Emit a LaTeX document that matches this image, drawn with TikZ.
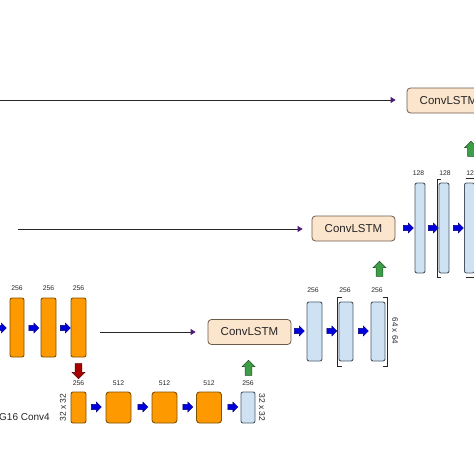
\documentclass[tikz,border=0pt]{standalone}
\usepackage{fontspec}
\setmainfont{Liberation Sans}
\usetikzlibrary{shapes.arrows,arrows.meta}
\definecolor{orfill}{HTML}{FF9900}
\definecolor{ordraw}{HTML}{7F5200}
\definecolor{lbfill}{HTML}{CFE2F3}
\definecolor{lbdraw}{HTML}{4A5866}
\definecolor{lsfill}{HTML}{FCE5CD}
\definecolor{lsdraw}{HTML}{6B5B4B}
\definecolor{bafill}{HTML}{0000DD}
\definecolor{badraw}{HTML}{00007A}
\definecolor{gafill}{HTML}{3E9E47}
\definecolor{gadraw}{HTML}{1E4F22}
\definecolor{rafill}{HTML}{A80000}
\definecolor{radraw}{HTML}{500000}
\definecolor{purp}{HTML}{4B1A7A}
\definecolor{txt}{HTML}{262626}
\begin{document}
\begin{tikzpicture}[x=1pt,y=-1pt,
  orbar/.style={draw=ordraw,fill=orfill,line width=0.9pt,rounded corners=2pt,inner sep=0pt},
  lbbar/.style={draw=lbdraw,fill=lbfill,line width=0.9pt,rounded corners=2pt,inner sep=0pt},
  lstm/.style={draw=lsdraw,fill=lsfill,line width=0.8pt,rounded corners=3.5pt,minimum width=83pt,minimum height=25pt,inner sep=0pt,font=\fontsize{11.5}{12}\selectfont,text=txt},
  barrow/.style={single arrow,draw=badraw,fill=bafill,line width=0.4pt,minimum height=10pt,inner sep=2.4pt,single arrow head extend=2.4pt,single arrow head indent=0pt},
  uparrow/.style={single arrow,draw=gadraw,fill=gafill,line width=0.5pt,minimum height=15pt,inner sep=3.2pt,single arrow head extend=3pt,single arrow head indent=0pt,shape border rotate=90},
  dnarrow/.style={single arrow,draw=radraw,fill=rafill,line width=0.5pt,minimum height=15pt,inner sep=3.2pt,single arrow head extend=3pt,single arrow head indent=0pt,shape border rotate=270},
  lbl/.style={font=\fontsize{6.8}{7}\selectfont,text=txt,inner sep=0pt},
  dim/.style={font=\fontsize{8.5}{9}\selectfont,text=txt,inner sep=0pt},
  skip/.style={draw=txt,line width=0.8pt,-{Triangle[length=5pt,width=6pt,fill=purp,color=purp]}},
  brk/.style={draw=txt,line width=0.7pt}
]
\useasboundingbox (0,0) rectangle (474,474);
\clip (0,0) rectangle (474,474);

% ---------- bottom row 1 (orange) ----------
\node[orbar,minimum width=14pt,minimum height=59pt] (o1) at (17,327.5) {};
\node[orbar,minimum width=15pt,minimum height=59pt] (o2) at (48.5,327.5) {};
\node[orbar,minimum width=15pt,minimum height=59pt] (o3) at (78.5,327.5) {};
\node[lbl] at (17,288) {256};
\node[lbl] at (48.5,288) {256};
\node[lbl] at (78.5,288) {256};
\node[barrow] (ba0) at (0,328) {};
\node[barrow] (ba1) at (32.5,328) {};
\node[barrow] (ba2) at (64,328) {};

% ConvLSTM 1
\node[lstm] (l1) at (249.5,332) {ConvLSTM};
\coordinate (s1start) at (100,332);
\draw[skip,shorten >=12pt] (s1start) -- (l1.west);

% light blue bars 64x64
\node[barrow] (ba3) at (298,331) {};
\node[lbbar,minimum width=15pt,minimum height=59pt] (b1) at (314.5,331.5) {};
\node[lbbar,minimum width=14pt,minimum height=59pt] (b2) at (346,331.5) {};
\node[lbbar,minimum width=14pt,minimum height=59pt] (b3) at (378,331.5) {};
\node[lbl] at (313,290) {256};
\node[lbl] at (345,290) {256};
\node[lbl] at (377,290) {256};
\node[barrow] (ba4) at (330.5,331) {};
\node[barrow] (ba5) at (362,331) {};
\draw[brk] (341.5,297) -- (337,297) -- (337,366) -- (341.5,366);
\draw[brk] (382.5,297) -- (387,297) -- (387,366) -- (382.5,366);
\node[dim,rotate=-90,font=\fontsize{8}{9}\selectfont] at (395,331) {64 x 64};

% ---------- bottom row 2 (VGG16 Conv4) ----------
\node[orbar,minimum width=15pt,minimum height=31pt] (c1) at (78.5,407.5) {};
\node[orbar,minimum width=25pt,minimum height=31pt,rounded corners=3pt] (c2) at (118.5,407.5) {};
\node[orbar,minimum width=25pt,minimum height=31pt,rounded corners=3pt] (c3) at (164.5,407.5) {};
\node[orbar,minimum width=25pt,minimum height=31pt,rounded corners=3pt] (c4) at (209,407.5) {};
\node[lbbar,minimum width=14pt,minimum height=31pt] (c5) at (248,407.5) {};
\node[lbl] at (78.5,383) {256};
\node[lbl] at (118.5,383) {512};
\node[lbl] at (164.5,383) {512};
\node[lbl] at (209,383) {512};
\node[lbl] at (248,383) {256};
\node[barrow] (ba6) at (95,407) {};
\node[barrow] (ba7) at (141.5,407) {};
\node[barrow] (ba8) at (186.5,407) {};
\node[barrow] (ba9) at (231.5,407) {};
\node[dim,rotate=90] at (63,407.5) {32 x 32};
\node[dim,rotate=-90] at (262,407.5) {32 x 32};
\node[font=\fontsize{10}{11}\selectfont,text=txt,anchor=east,inner sep=0pt] (vgg) at (50,417) {VGG16 Conv4};
\node[dnarrow] (ra1) at (78.5,369.5) {};
\node[uparrow] (ga1) at (248.5,369.5) {};

% ---------- middle row ----------
\node[lstm] (l2) at (353.5,228.5) {ConvLSTM};
\coordinate (s2start) at (18,229);
\draw[skip,shorten >=9pt] (s2start) -- (s2start -| l2.west);
\node[uparrow] (ga2) at (379.5,270.5) {};
\node[barrow] (ba10) at (407,228) {};
\node[lbbar,minimum width=10pt,minimum height=90pt] (m1) at (420,228) {};
\node[lbbar,minimum width=10pt,minimum height=90pt] (m2) at (444,228) {};
\node[lbbar,minimum width=10pt,minimum height=90pt] (m3) at (469.5,228) {};
\node[lbl] at (418.5,173) {128};
\node[lbl] at (445,173) {128};
\node[lbl] at (472,173) {128};
\node[barrow] (ba11) at (432,228) {};
\node[barrow] (ba12) at (457,228) {};
\draw[brk] (441,179) -- (437,179) -- (437,277) -- (441,277);
\draw[brk] (465.5,178.5) -- (478,178.5) -- (478,277.5) -- (465.5,277.5);
\node[uparrow] (ga3) at (471,150.5) {};

% ---------- top row ----------
\node[lstm] (l3) at (448.5,100.5) {ConvLSTM};
\coordinate (s3start) at (-5,100);
\draw[skip,shorten >=11pt] (s3start) -- (s3start -| l3.west);
\end{tikzpicture}
\end{document}
